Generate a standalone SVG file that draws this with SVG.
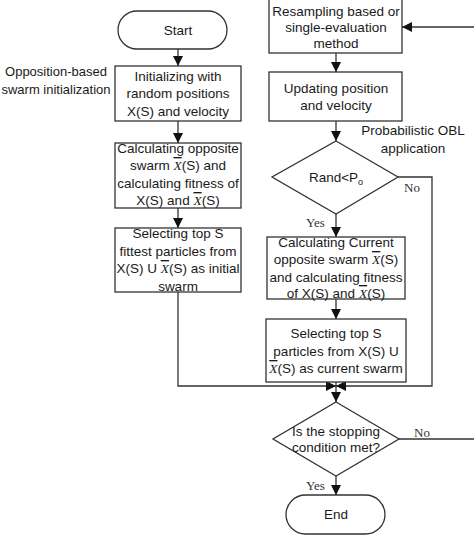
<svg xmlns="http://www.w3.org/2000/svg" width="474" height="537" viewBox="0 0 474 537">
<style>
.b{fill:#fff;stroke:#333;stroke-width:1.3}
.t{font-family:"Liberation Sans",Arial,sans-serif;font-size:13.5px;fill:#1a1a1a;text-anchor:middle}
.x{font-family:"Liberation Serif","Times New Roman",serif;font-style:italic;text-decoration:overline}
.s{font-family:"Liberation Serif","Times New Roman",serif;font-size:13px;fill:#333}
.c{fill:none;stroke:#333;stroke-width:1.3}
</style>
<defs>
<marker id="a" viewBox="0 0 10 10" refX="10" refY="5" markerWidth="10" markerHeight="10" markerUnits="userSpaceOnUse" orient="auto">
<path d="M0,0L10,5L0,10z" fill="#111"/>
</marker>
</defs>
<rect width="474" height="537" fill="#fff"/>
<g id="connectors">
<path class="c" d="M178,49V66" marker-end="url(#a)"/>
<path class="c" d="M178,121V143" marker-end="url(#a)"/>
<path class="c" d="M178,208V228" marker-end="url(#a)"/>
<path class="c" d="M178,292V386H336" marker-end="url(#a)"/>
<path class="c" d="M474,27H402" marker-end="url(#a)"/>
<path class="c" d="M336,53V72" marker-end="url(#a)"/>
<path class="c" d="M336,121V141" marker-end="url(#a)"/>
<path class="c" d="M336,214V237" marker-end="url(#a)"/>
<path class="c" d="M336,299V319" marker-end="url(#a)"/>
<path class="c" d="M398,177H432V386H336" marker-end="url(#a)"/>
<path class="c" d="M336,382V402" marker-end="url(#a)"/>
<path class="c" d="M399,439H474"/>
<path class="c" d="M336,476V495" marker-end="url(#a)"/>
<text class="s" x="404" y="192">No</text>
<text class="s" x="306" y="227">Yes</text>
<text class="s" x="414" y="437">No</text>
<text class="s" x="306" y="490">Yes</text>
</g>
<g id="label-init">
<text class="t" x="56" y="76" style="font-size:13px">Opposition-based</text>
<text class="t" x="56" y="94" style="font-size:13px">swarm initialization</text>
</g>
<g id="label-pobl">
<text class="t" x="413" y="135">Probabilistic OBL</text>
<text class="t" x="413" y="153">application</text>
</g>
<g id="start">
<rect class="b" x="118" y="11" width="109" height="38" rx="19"/>
<text class="t" x="178" y="35">Start</text>
</g>
<g id="init">
<rect class="b" x="115" y="66" width="126" height="55"/>
<text class="t" x="178" y="81">Initializing with</text>
<text class="t" x="178" y="98">random positions</text>
<text class="t" x="178" y="116">X(S) and velocity</text>
</g>
<g id="opposite">
<rect class="b" x="115" y="143" width="126" height="65"/>
<text class="t" x="178" y="153">Calculating opposite</text>
<text class="t" x="178" y="170">swarm <tspan class="x">X</tspan>(S) and</text>
<text class="t" x="178" y="188">calculating fitness of</text>
<text class="t" x="178" y="205">X(S) and <tspan class="x">X</tspan>(S)</text>
</g>
<g id="select-init">
<rect class="b" x="115" y="228" width="126" height="64"/>
<text class="t" x="178" y="238">Selecting top S</text>
<text class="t" x="178" y="256">fittest particles from</text>
<text class="t" x="178" y="273">X(S) U <tspan class="x">X</tspan>(S) as initial</text>
<text class="t" x="178" y="291">swarm</text>
</g>
<g id="resampling">
<rect class="b" x="269" y="-1" width="133" height="54"/>
<text class="t" x="336" y="16">Resampling based or</text>
<text class="t" x="336" y="32">single-evaluation</text>
<text class="t" x="336" y="48">method</text>
</g>
<g id="update">
<rect class="b" x="269" y="72" width="133" height="49"/>
<text class="t" x="336" y="93">Updating position</text>
<text class="t" x="336" y="110">and velocity</text>
</g>
<g id="rand">
<path class="b" d="M336,141L398,177L336,214L272,177z"/>
<text class="t" x="336" y="182">Rand&lt;P<tspan font-size="9" dy="3">o</tspan></text>
</g>
<g id="current-opposite">
<rect class="b" x="267" y="237" width="138" height="62"/>
<text class="t" x="336" y="247">Calculating Current</text>
<text class="t" x="336" y="264">opposite swarm <tspan class="x">X</tspan>(S)</text>
<text class="t" x="336" y="282">and calculating fitness</text>
<text class="t" x="336" y="298">of X(S) and <tspan class="x">X</tspan>(S)</text>
</g>
<g id="select-current">
<rect class="b" x="266" y="319" width="140" height="63"/>
<text class="t" x="336" y="338">Selecting  top S</text>
<text class="t" x="336" y="356">particles from X(S) U</text>
<text class="t" x="336" y="373"><tspan class="x">X</tspan>(S) as current swarm</text>
</g>
<g id="stop">
<path class="b" d="M336,402L399,439L336,476L273,439z"/>
<text class="t" x="336" y="436">Is the stopping</text>
<text class="t" x="336" y="452">condition met?</text>
</g>
<g id="end">
<rect class="b" x="286" y="495" width="99" height="39" rx="19.5"/>
<text class="t" x="336" y="519">End</text>
</g>
</svg>
